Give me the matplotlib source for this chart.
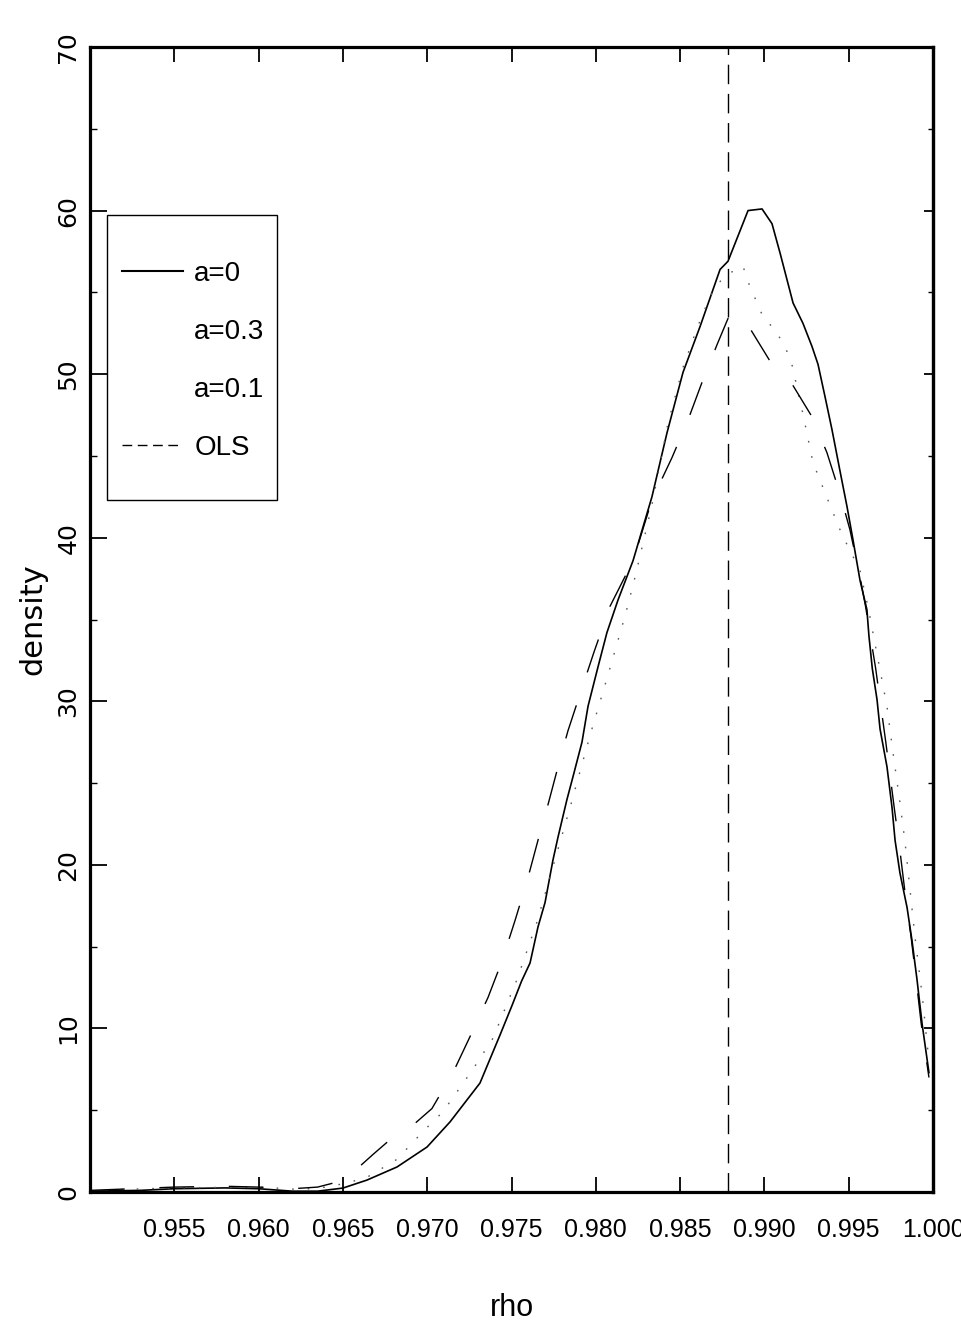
import matplotlib
matplotlib.use("Agg")
import matplotlib.pyplot as plt
from matplotlib.lines import Line2D
from matplotlib.patches import Rectangle
from matplotlib.ticker import MultipleLocator

# ---------------- data ----------------
# a = 0  (solid)
rho_a0 = [0.9500, 0.9530, 0.9550, 0.9580, 0.9600, 0.9620, 0.9635, 0.9650,
          0.96643, 0.96821, 0.96999, 0.97135, 0.97313, 0.97432, 0.97503,
          0.97560, 0.97610, 0.97657, 0.97699, 0.97746, 0.97776, 0.97829,
          0.97865, 0.97918, 0.97954, 0.98013, 0.98066, 0.98132, 0.98221,
          0.98333, 0.98422, 0.98517, 0.98618, 0.98737, 0.98784, 0.98903,
          0.98986, 0.99045, 0.99093, 0.99170, 0.99229, 0.99282, 0.99318,
          0.99360, 0.99401, 0.99448, 0.99490, 0.99525, 0.99567, 0.99608,
          0.99620, 0.99640, 0.99668, 0.99686, 0.99727, 0.99757, 0.99775,
          0.99804, 0.99846, 0.99875, 0.99905, 0.99935, 0.99976]
dens_a0 = [0.05, 0.10, 0.20, 0.25, 0.20, 0.05, 0.05, 0.24,
           0.73, 1.53, 2.75, 4.28, 6.66, 9.6, 11.4,
           12.9, 14.0, 16.2, 17.7, 20.3, 21.7, 24.0,
           25.4, 27.5, 29.7, 32.1, 34.2, 36.2, 38.6,
           42.5, 46.4, 50.1, 52.9, 56.4, 56.9, 60.0,
           60.1, 59.2, 57.4, 54.35, 53.1, 51.7, 50.6,
           48.6, 46.6, 44.1, 41.9, 39.9, 37.4, 35.6,
           34.0, 32.0, 30.1, 28.3, 26.0, 23.5, 21.5,
           19.5, 17.4, 15.4, 13.0, 10.3, 7.3]

# a = 0.3  (dotted)
rho_a03 = [0.9500, 0.9550, 0.9600, 0.9625, 0.9640, 0.96524, 0.96643, 0.96821,
           0.96975, 0.97093, 0.97271, 0.97390, 0.97533, 0.97651, 0.97847,
           0.97971, 0.98072, 0.98173, 0.98233, 0.98333, 0.98428, 0.98517,
           0.98600, 0.98680, 0.98760, 0.98873, 0.98909, 0.98992, 0.99063,
           0.99122, 0.99163, 0.99230, 0.99288, 0.99377, 0.99460, 0.99567,
           0.99620, 0.99662, 0.99727, 0.99757, 0.99804, 0.99834, 0.99893,
           0.99935, 0.99976]
dens_a03 = [0.10, 0.25, 0.30, 0.15, 0.30, 0.55, 0.9, 2.0,
            3.7, 4.9, 7.5, 9.4, 13.0, 16.5, 23.5,
            28.1, 31.6, 35.2, 37.6, 42.0, 47.0, 50.4,
            52.8, 54.8, 56.0, 56.6, 55.5, 53.5, 52.7,
            51.7, 50.6, 47.5, 44.6, 42.3, 40.2, 38.0,
            35.5, 33.2, 29.7, 27.3, 23.8, 21.4, 15.6,
            12.1, 8.0]

# a = 0.1  (long dashes)
rho_a01 = [0.9500, 0.9550, 0.9580, 0.9600, 0.9620, 0.9635, 0.96501, 0.96560,
           0.96679, 0.96791, 0.96928, 0.97028, 0.97153, 0.97254, 0.97361,
           0.97443, 0.97521, 0.97592, 0.97657, 0.97717, 0.97776, 0.97835,
           0.97918, 0.97989, 0.98084, 0.98221, 0.98333, 0.98452, 0.98547,
           0.98630, 0.98719, 0.98784, 0.98826, 0.98870, 0.98926, 0.99045,
           0.99158, 0.99282, 0.99371, 0.99448, 0.99507, 0.99567, 0.99600,
           0.99660, 0.99720, 0.99770, 0.99800, 0.99840, 0.99870, 0.99900,
           0.99930, 0.99976]
dens_a01 = [0.10, 0.30, 0.35, 0.30, 0.20, 0.30, 0.7, 1.2,
            2.3, 3.3, 4.2, 5.1, 7.3, 9.5, 11.9,
            14.1, 16.6, 19.0, 21.5, 23.7, 26.0, 28.2,
            30.8, 33.0, 35.8, 38.6, 42.3, 44.9, 47.2,
            49.5, 51.8, 53.4, 53.8, 53.6, 52.6, 50.6,
            49.5, 47.4, 45.2, 42.7, 40.5, 37.6, 35.8,
            32.0, 27.5, 23.5, 21.2, 17.8, 15.6, 13.0,
            10.3, 7.0]

ols_rho = 0.98784

x_ticks = [0.955, 0.960, 0.965, 0.970, 0.975, 0.980, 0.985, 0.990, 0.995, 1.000]
x_ticklabels = ["0.955", "0.960", "0.965", "0.970", "0.975",
                "0.980", "0.985", "0.990", "0.995", "1.000"]
y_ticks = [0, 10, 20, 30, 40, 50, 60, 70]
y_ticklabels = ["0", "10", "20", "30", "40", "50", "60", "70"]
legend_labels = ["a=0", "a=0.3", "a=0.1", "OLS"]

# ---------------- figure ----------------
narrow = ["Liberation Sans", "DejaVu Sans"]

W, H = 961, 1336
fig = plt.figure(figsize=(W / 100, H / 100), dpi=100)
ax = fig.add_axes([90 / W, (H - 1192) / H, 843 / W, 1145 / H])

ax.plot(rho_a0, dens_a0, color="black", lw=1.2)
ax.plot(rho_a03, dens_a03, color="0.35", lw=1.0, dashes=(1.2, 10))
ax.plot(rho_a01, dens_a01, color="black", lw=1.0, dashes=(25, 25))
ax.axvline(ols_rho, color="black", lw=1.0, dashes=(14, 7))

ax.set_xlim(0.950, 1.000)
ax.set_ylim(0, 70)

for s in ax.spines.values():
    s.set_linewidth(2.3)

ax.set_xticks(x_ticks)
ax.set_xticklabels(x_ticklabels, family=narrow, fontsize=18)
ax.tick_params(axis="x", which="major", direction="in", length=11, width=1.3,
               top=True, bottom=True, pad=19)

ax.set_yticks(y_ticks)
ax.set_yticklabels(y_ticklabels, family="DejaVu Sans", fontsize=18,
                   rotation=90, va="center")
ax.yaxis.set_minor_locator(MultipleLocator(5))
ax.tick_params(axis="y", which="major", direction="in", length=12, width=1.3,
               left=True, right=False, pad=7)
ax.tick_params(axis="y", which="minor", direction="in", length=5, width=1.0,
               left=True, right=False)

sec = ax.secondary_yaxis("right")
sec.set_yticks(y_ticks)
sec.yaxis.set_minor_locator(MultipleLocator(5))
sec.tick_params(axis="y", which="major", direction="in", length=6.5, width=1.3,
                labelright=False)
sec.tick_params(axis="y", which="minor", direction="in", length=3.5, width=1.0)
sec.spines["right"].set_linewidth(2.3)

ax.set_ylabel("density", fontsize=22, family="DejaVu Sans")
ax.yaxis.set_label_coords(-0.050, 0.5)
ax.set_xlabel("rho", fontsize=22, family=narrow)
ax.xaxis.set_label_coords(0.5, -0.088)

# legend
handles = [Line2D([], [], color="black", lw=1.5),
           Line2D([], [], linestyle="None"),
           Line2D([], [], linestyle="None"),
           Line2D([], [], color="black", lw=1.0, dashes=(7, 4))]
leg = fig.legend(handles, legend_labels, loc="upper left",
                 bbox_to_anchor=(122 / W, 1 - 261 / H),
                 bbox_transform=fig.transFigure, frameon=False,
                 prop={"family": narrow, "size": 20},
                 handlelength=2.2, handletextpad=0.4, labelspacing=1.15,
                 borderpad=0, borderaxespad=0)
fig.patches.append(Rectangle((107 / W, 1 - 500 / H), 170 / W, 285 / H,
                             transform=fig.transFigure, fill=False,
                             edgecolor="black", lw=1.0))

fig.savefig("out.png", dpi=100, facecolor="white")
